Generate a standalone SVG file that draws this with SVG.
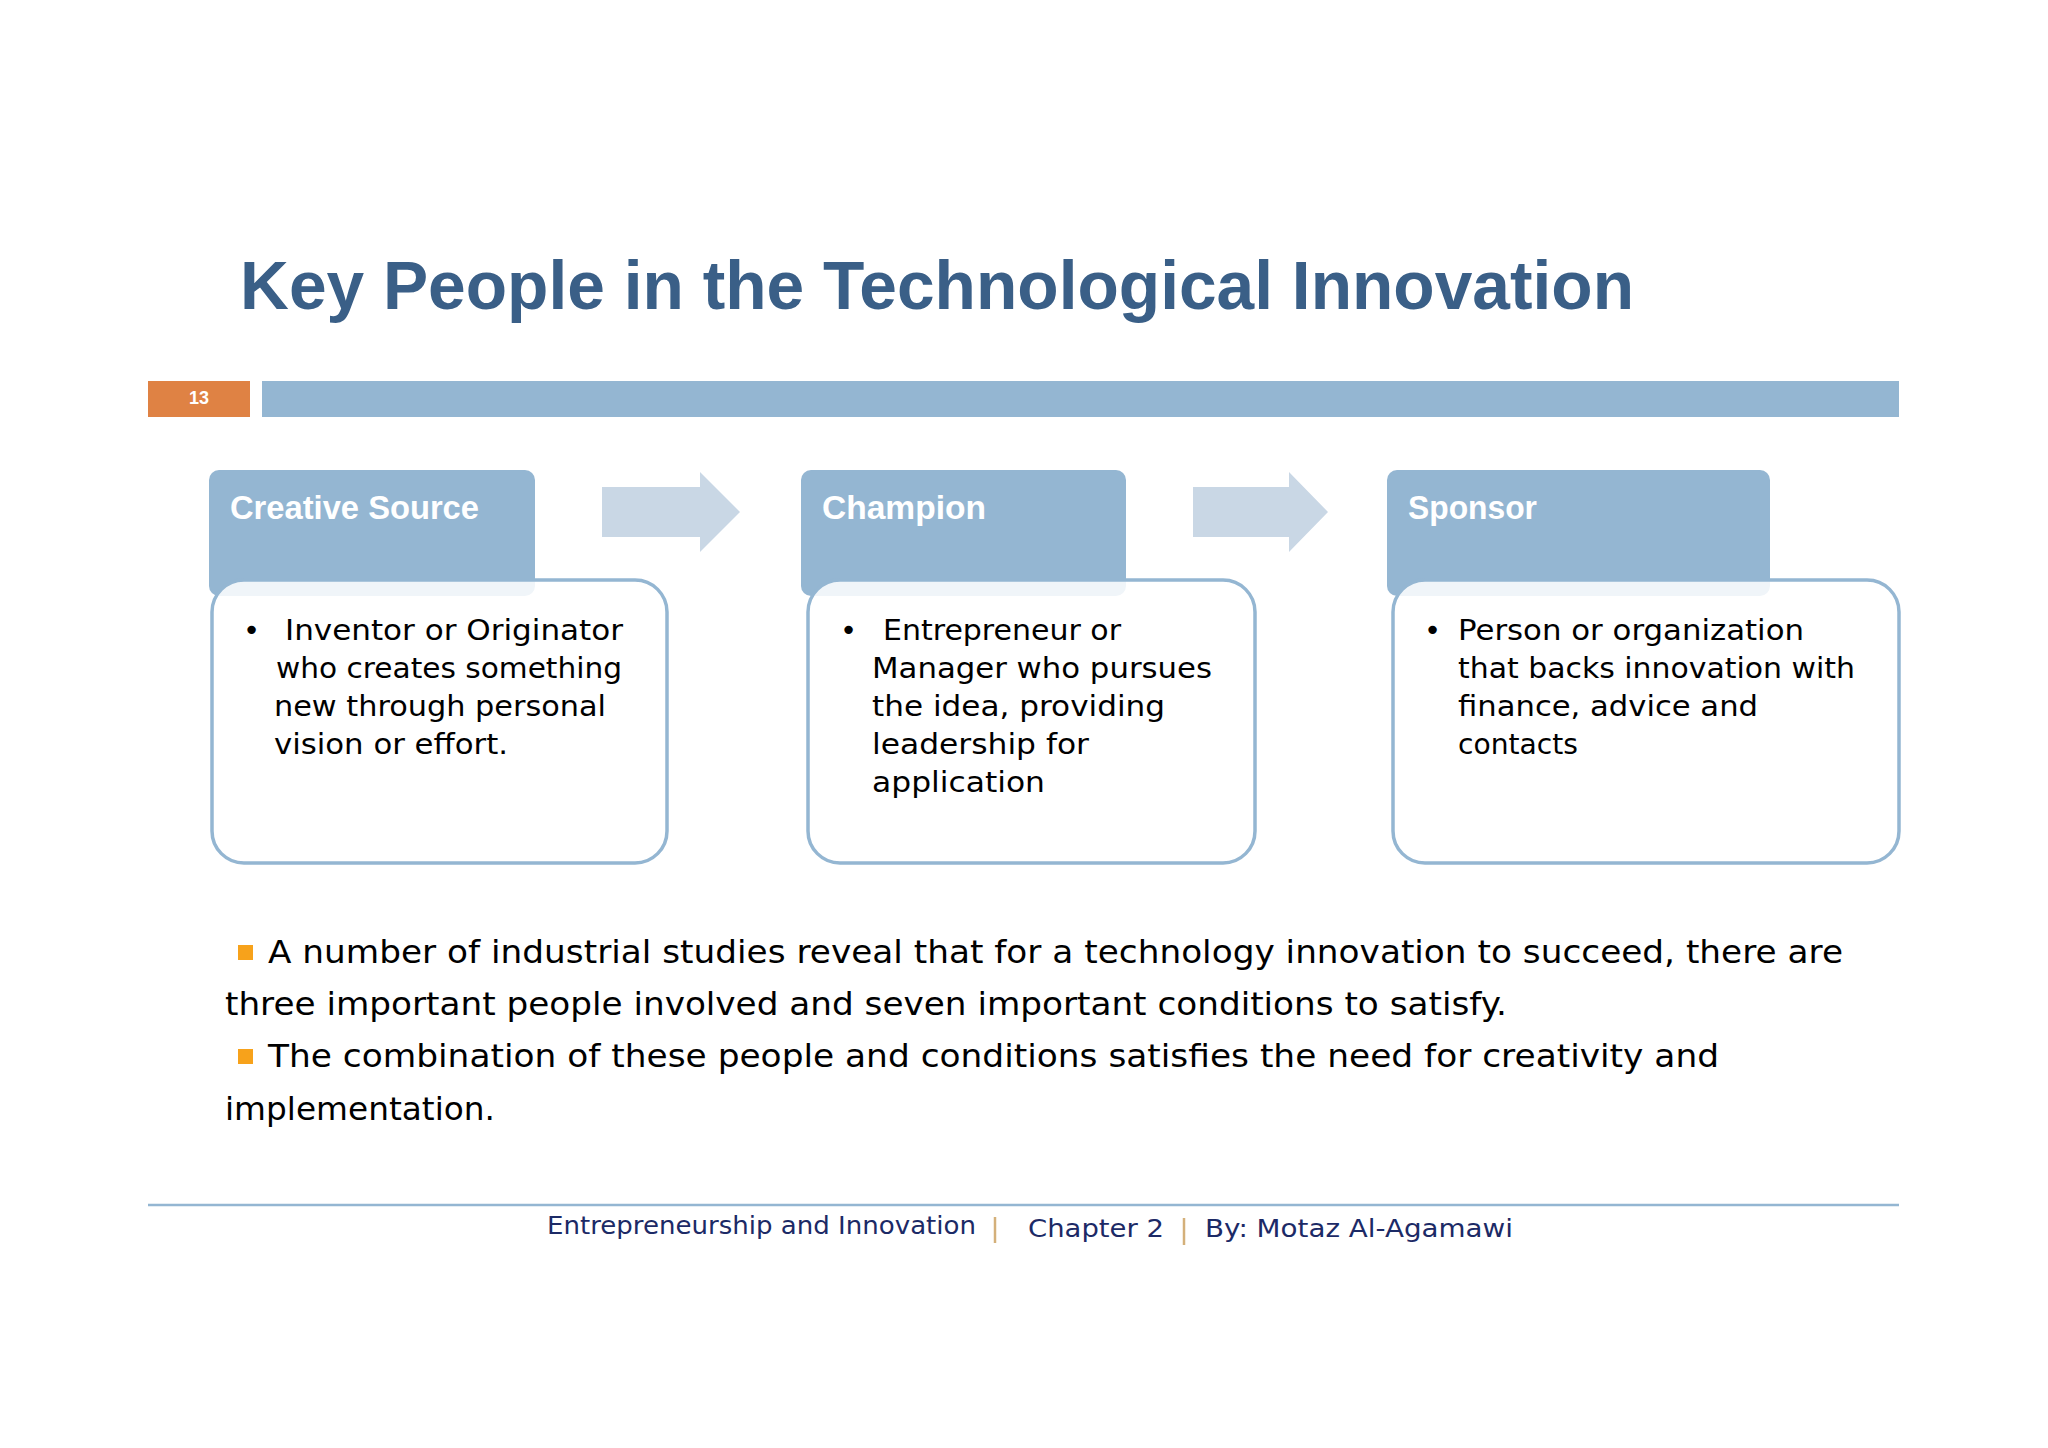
<svg xmlns="http://www.w3.org/2000/svg" width="2048" height="1448" viewBox="0 0 2048 1448">
<style>
.title{font-family:"Liberation Sans",Arial,sans-serif;font-weight:bold;font-size:68px;fill:#3A5F87}
.hdr{fill:#94B6D2}
.hdrtxt{font-family:"Liberation Sans",Arial,sans-serif;font-weight:bold;font-size:33px;fill:#FFFFFF}
.body{fill:#FFFFFF;fill-opacity:0.86;stroke:#94B6D2;stroke-width:3.5}
.btxt{font-family:"DejaVu Sans","Liberation Sans",sans-serif;font-size:29px;fill:#000000}
.ptxt{font-family:"DejaVu Sans","Liberation Sans",sans-serif;font-size:32px;fill:#000000}
.ftxt{font-family:"DejaVu Sans","Liberation Sans",sans-serif;font-size:25px;fill:#1C2A66}
.arrow{fill:#C9D7E5}
.sep{stroke:#D4B07A;stroke-width:2.5}
.sq{fill:#F7A21B}
</style>
<rect x="0" y="0" width="2048" height="1448" fill="#FFFFFF"/>

<g id="title">
<text class="title" x="240" y="309" textLength="1394" lengthAdjust="spacingAndGlyphs">Key People in the Technological Innovation</text>
</g>

<g id="slide-bar">
<rect x="148" y="381" width="102" height="36" fill="#DF8244"/>
<text x="199" y="404" text-anchor="middle" font-family="Liberation Sans,Arial,sans-serif" font-weight="bold" font-size="18" fill="#FFFFFF">13</text>
<rect x="262" y="381" width="1637" height="36" fill="#94B6D2"/>
</g>

<g id="connectors">
<polygon class="arrow" points="602,487 700,487 700,472 740,512 700,552 700,537 602,537"/>
<polygon class="arrow" points="1193,487 1289,487 1289,472 1328,512 1289,552 1289,537 1193,537"/>
</g>

<g id="node-creative-source">
<rect class="hdr" x="209" y="470" width="326" height="126" rx="10"/>
<text class="hdrtxt" x="230" y="519" textLength="249" lengthAdjust="spacingAndGlyphs">Creative Source</text>
<rect class="body" x="212" y="580" width="455" height="283" rx="32"/>
<text class="btxt" x="243" y="640">•</text>
<text class="btxt" x="285" y="640" textLength="338" lengthAdjust="spacingAndGlyphs">Inventor or Originator</text>
<text class="btxt" x="276" y="678" textLength="346" lengthAdjust="spacingAndGlyphs">who creates something</text>
<text class="btxt" x="274" y="716" textLength="332" lengthAdjust="spacingAndGlyphs">new through personal</text>
<text class="btxt" x="274" y="754" textLength="234" lengthAdjust="spacingAndGlyphs">vision or effort.</text>
</g>

<g id="node-champion">
<rect class="hdr" x="801" y="470" width="325" height="126" rx="10"/>
<text class="hdrtxt" x="822" y="519" textLength="164" lengthAdjust="spacingAndGlyphs">Champion</text>
<rect class="body" x="808" y="580" width="447" height="283" rx="32"/>
<text class="btxt" x="840" y="640">•</text>
<text class="btxt" x="883" y="640" textLength="238" lengthAdjust="spacingAndGlyphs">Entrepreneur or</text>
<text class="btxt" x="872" y="678" textLength="340" lengthAdjust="spacingAndGlyphs">Manager who pursues</text>
<text class="btxt" x="872" y="716" textLength="293" lengthAdjust="spacingAndGlyphs">the idea, providing</text>
<text class="btxt" x="872" y="754" textLength="217" lengthAdjust="spacingAndGlyphs">leadership for</text>
<text class="btxt" x="872" y="792" textLength="173" lengthAdjust="spacingAndGlyphs">application</text>
</g>

<g id="node-sponsor">
<rect class="hdr" x="1387" y="470" width="383" height="126" rx="10"/>
<text class="hdrtxt" x="1408" y="519" textLength="129" lengthAdjust="spacingAndGlyphs">Sponsor</text>
<rect class="body" x="1393" y="580" width="506" height="283" rx="32"/>
<text class="btxt" x="1424" y="640">•</text>
<text class="btxt" x="1458" y="640" textLength="346" lengthAdjust="spacingAndGlyphs">Person or organization</text>
<text class="btxt" x="1458" y="678" textLength="397" lengthAdjust="spacingAndGlyphs">that backs innovation with</text>
<text class="btxt" x="1458" y="716" textLength="300" lengthAdjust="spacingAndGlyphs">finance, advice and</text>
<text class="btxt" x="1458" y="754" textLength="120" lengthAdjust="spacingAndGlyphs">contacts</text>
</g>

<g id="paragraph">
<rect class="sq" x="238" y="945" width="15" height="15"/>
<text class="ptxt" x="268" y="963" textLength="1575" lengthAdjust="spacingAndGlyphs">A number of industrial studies reveal that for a technology innovation to succeed, there are</text>
<text class="ptxt" x="225" y="1015" textLength="1282" lengthAdjust="spacingAndGlyphs">three important people involved and seven important conditions to satisfy.</text>
<rect class="sq" x="238" y="1049" width="15" height="15"/>
<text class="ptxt" x="268" y="1067" textLength="1451" lengthAdjust="spacingAndGlyphs">The combination of these people and conditions satisfies the need for creativity and</text>
<text class="ptxt" x="225" y="1120" textLength="270" lengthAdjust="spacingAndGlyphs">implementation.</text>
</g>

<g id="footer">
<line x1="148" y1="1205" x2="1899" y2="1205" stroke="#94B6D2" stroke-width="2.5"/>
<text class="ftxt" x="547" y="1234" textLength="429" lengthAdjust="spacingAndGlyphs">Entrepreneurship and Innovation</text>
<line class="sep" x1="995" y1="1217" x2="995" y2="1243"/>
<text class="ftxt" x="1028" y="1237" textLength="136" lengthAdjust="spacingAndGlyphs">Chapter 2</text>
<line class="sep" x1="1184" y1="1218" x2="1184" y2="1245"/>
<text class="ftxt" x="1205" y="1237" textLength="308" lengthAdjust="spacingAndGlyphs">By: Motaz Al-Agamawi</text>
</g>
</svg>
